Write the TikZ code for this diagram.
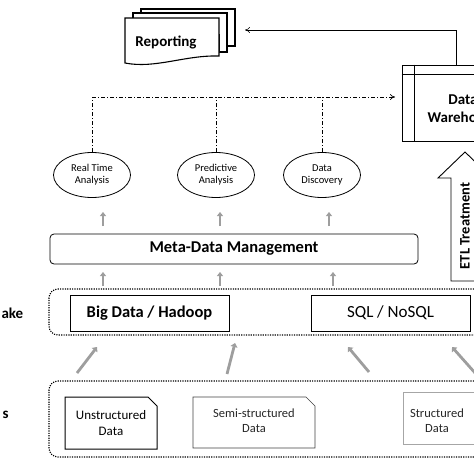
\documentclass[tikz,border=0pt]{standalone}
\usepackage{fontspec}
\setmainfont{Carlito}
\usetikzlibrary{arrows.meta,shapes.geometric}
\tikzset{
  thinarr/.style={-{To[length=5pt,width=6pt]},line width=0.6pt},
  grayarr/.style={-{Triangle[length=4pt,width=7pt]},line width=2.8pt,draw=black!38},
  smallarr/.style={-{Triangle[length=4pt,width=6pt]},line width=2.4pt,draw=black!38},
  dashdot/.style={dash pattern=on 4pt off 2pt on 1pt off 2pt,line width=0.7pt},
  dotbox/.style={draw,dash pattern=on 1.2pt off 1.2pt,line width=1.1pt,rounded corners=9pt},
  plainbox/.style={draw,line width=1pt,inner sep=0pt},
  oval/.style={draw,ellipse,line width=0.8pt,minimum width=77pt,minimum height=45pt,inner sep=0pt,align=center,font=\fontsize{10.5}{12}\selectfont},
  doc/.style={draw,fill=white,line width=1.1pt},
}
\begin{document}
\begin{tikzpicture}[x=1pt,y=-1pt]
\useasboundingbox (0,0) rectangle (474,474);
\clip (0,0) rectangle (474,474);

% Reporting document stack
\path[doc] (141,30) -- (141,9) -- (235,9) -- (235,46) -- (227,46) -- (227,30) -- cycle;
\path[doc] (133,35) -- (133,13) -- (227,13) -- (227,52) -- (219,52) -- (219,35) -- cycle;
\path[doc] (125,18) -- (219,18) -- (219,56) .. controls (185,55) and (155,69) .. (125,63) -- cycle;
\node[font=\fontsize{15}{17}\selectfont\bfseries] (rep) at (166,42) {Reporting};
\coordinate (repend) at (245,30);

% Data Warehouse
\node[plainbox,minimum width=124pt,minimum height=76pt] (wh) at (464,103) {};
\draw[line width=1.6pt] ([xshift=13pt]wh.north west) -- ([xshift=13pt]wh.south west);
\draw[line width=1.6pt] ([yshift=-10pt]wh.north west) -- ([yshift=-10pt]wh.north east);
\node[font=\fontsize{15}{18}\selectfont\bfseries,align=center] (whtext) at (463,109) {Data\\Warehouse};
\coordinate (whtop) at (456,65);
\draw[thinarr] (whtop) |- (repend);

% Analysis ellipses
\node[oval] (e1) at (92,175) {Real Time\\Analysis};
\node[oval] (e2) at (216,175) {Predictive\\Analysis};
\node[oval] (e3) at (322,175) {Data\\Discovery};
\coordinate (ddend) at (395,97);
\draw[dashdot] (e1.north) -- (e1.north |- ddend);
\draw[dashdot] (e2.north) -- (e2.north |- ddend);
\draw[dashdot] (e3.north) -- (e3.north |- ddend);
\draw[dashdot,-{To[length=5pt,width=6pt]}] (e1.north |- ddend) -- (ddend);

% Meta-data management
\node[draw,line width=0.8pt,rounded corners=4pt,minimum width=368pt,minimum height=30pt,font=\fontsize{16.5}{18}\selectfont\bfseries] (meta) at (234,249) {Meta-Data Management};
\foreach \x/\n in {103/a,220/b,329/c}{
  \coordinate (m\n b) at (\x,226); \coordinate (m\n t) at (\x,212);
  \draw[smallarr] (m\n b) -- (m\n t);
}
\foreach \x/\n in {103/a,220/b,333/c}{
  \coordinate (l\n b) at (\x,286); \coordinate (l\n t) at (\x,272);
  \draw[smallarr] (l\n b) -- (l\n t);
}

% ETL Treatment arrow
\draw[line width=0.9pt,fill=white] (451,281) -- (451,178) -- (438,178) -- (465,152) -- (492,178) -- (479,178) -- (479,281) -- cycle;
\node[rotate=90,font=\fontsize{14.5}{16}\selectfont\bfseries] (etl) at (465,226) {ETL Treatment};

% Data Lake
\node[dotbox,minimum width=470pt,minimum height=46pt] (lake) at (284,312) {};
\node[font=\fontsize{15}{17}\selectfont\bfseries,anchor=west] (lakelbl) at (-2,313) {ake};
\node[plainbox,minimum width=159pt,minimum height=36pt,font=\fontsize{16.5}{18}\selectfont\bfseries] (hadoop) at (149.5,313) {Big Data / Hadoop};
\node[plainbox,minimum width=159pt,minimum height=36pt,font=\fontsize{17}{19}\selectfont] (sql) at (390.5,313) {SQL / NoSQL};

% Sources
\node[dotbox,minimum width=470pt,minimum height=76pt] (src) at (284,419) {};
\node[font=\fontsize{15}{17}\selectfont\bfseries,anchor=west] (srclbl) at (-1,415) {s};
\draw[line width=1pt] (65,397) -- (148,397) -- (157,406) -- (157,449) -- (65,449) -- cycle;
\node[align=center,font=\fontsize{13}{16}\selectfont] (uns) at (111,423) {Unstructured\\Data};
\draw[line width=0.7pt,draw=black!75] (193,397) -- (306,397) -- (315,406) -- (315,448) -- (193,448) -- cycle;
\node[align=center,font=\fontsize{12.5}{15}\selectfont,text=black!85] (semi) at (254,421) {Semi-structured\\Data};
\draw[line width=0.6pt,draw=black!35] (403,392) rectangle (490,444);
\node[align=center,font=\fontsize{12.5}{15}\selectfont,text=black!85] (str) at (437,421) {Structured\\Data};

% gray arrows from sources to lake
\coordinate (g1t) at (77,373); \coordinate (g1h) at (97,347);
\coordinate (g2t) at (227,374); \coordinate (g2h) at (235,343);
\coordinate (g3t) at (369,372); \coordinate (g3h) at (348,347);
\coordinate (g4t) at (476,374); \coordinate (g4h) at (452,347);
\draw[grayarr] (g1t) -- (g1h);
\draw[grayarr] (g2t) -- (g2h);
\draw[grayarr] (g3t) -- (g3h);
\draw[grayarr] (g4t) -- (g4h);
\end{tikzpicture}
\end{document}
